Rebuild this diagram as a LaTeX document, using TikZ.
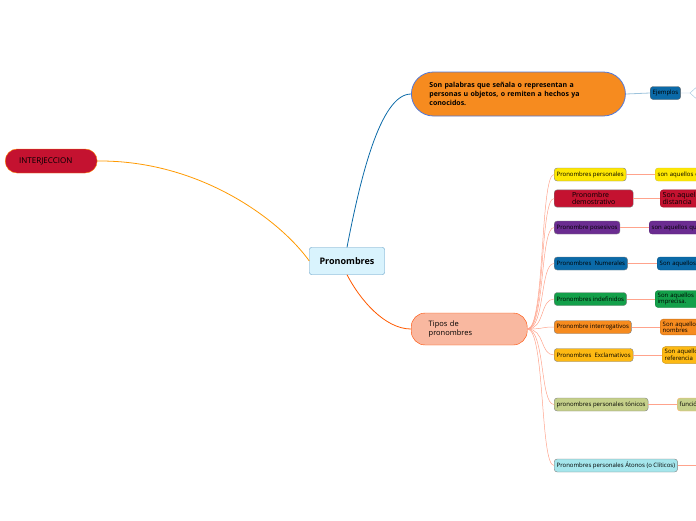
\documentclass[tikz,border=0pt]{standalone}
\usepackage{fontspec}
\setmainfont{Open Sans}
\begin{document}
\begin{tikzpicture}[x=1pt,y=-1pt,
 box/.style={draw, rounded corners=3pt, font=\fontsize{6}{7.5}\selectfont, anchor=west, inner sep=2.5pt, align=left},
 sal/.style={draw=orange!40!red!45, line width=0.5pt},
]
\useasboundingbox (0,0) rectangle (696,520);
\clip (0,0) rectangle (696,520);
\definecolor{crim}{HTML}{C41230}
\definecolor{dblue}{HTML}{0B6AA8}
\definecolor{purp}{HTML}{6B2C91}
\definecolor{grn}{HTML}{13A04A}
\definecolor{org}{HTML}{F68B1F}
\definecolor{gold}{HTML}{FDB913}
\definecolor{olive}{HTML}{C5D08A}
\definecolor{cyan2}{HTML}{A5E6EC}
\definecolor{salm}{HTML}{F9B8A0}
% central
\node[draw=dblue!70, fill=cyan!15, rounded corners=2pt, minimum width=75pt, minimum height=27pt, font=\bfseries\fontsize{9}{10}\selectfont] (P) at (347,261) {Pronombres};
\node[draw=orange, fill=crim, rounded corners=12pt, minimum width=92pt, minimum height=24pt, font=\fontsize{8}{9}\selectfont, text=black, anchor=west, align=left, text width=80pt] (I) at (5,161) {\hspace*{8pt}INTERJECCION};
\node[draw=dblue!60!blue!70, line width=0.8pt, fill=org, rounded corners=22pt, minimum width=214pt, minimum height=44pt, font=\bfseries\fontsize{7}{9}\selectfont, align=left, anchor=west, text width=190pt] (D) at (411,94) {\hspace*{6pt}\parbox{180pt}{Son palabras que señala o representan a\\personas u objetos, o remiten a hechos ya\\conocidos.}};
\node[box, fill=dblue, draw=black!60, minimum height=13pt] (E) at (650,93) {Ejemplos};
\node[draw=orange!60!red, fill=salm, rounded corners=14pt, minimum width=116pt, minimum height=32pt, font=\fontsize{7.5}{9}\selectfont, align=left, anchor=west, text width=95pt] (T) at (411,329) {\hspace*{7pt}\parbox{80pt}{Tipos de\\pronombres}};
\draw[dblue, line width=0.8pt] (P.north) .. controls (360,180) and (380,94) .. (D.west);
\draw[orange!70!red, line width=0.8pt] (P.south) .. controls (360,300) and (385,329) .. (T.west);
\draw[orange!80!yellow, line width=0.8pt] (I.east) .. controls (200,160) and (280,220) .. (P.west);
\draw[dblue!40, line width=0.8pt] (D.east) -- (E.west);
\coordinate (e1) at (700,84); \coordinate (e2) at (700,102);
\draw[dblue!40] (E.east) -- (690,93) -- (e1); \draw[dblue!40] (690,93) -- (e2);
% children
\foreach \n/\y/\c/\t/\rx/\rt/\fs/\mw in {
 a/174.5/yellow!90!orange/{Pronombres personales}/655/{son aquellos que}/6/0,
 b/198.5/crim/{Pronombre\\demostrativo}/660/{Son aquellos\\distancia}/7/79,
 c/227.5/purp/{Pronombre posesivos}/649/{son aquellos que}/6/0,
 d/263.5/dblue/{Pronombres\ \ Numerales}/657/{Son aquellos}/6/0,
 e/299/grn/{Pronombres indefinidos}/655/{Son aquellos\\imprecisa.}/6/0,
 f/327/org/{Pronombre interrogativos}/660/{Son aquellos\\nombres}/6/0,
 g/355/gold/{Pronombres\ \ Exclamativos}/662/{Son aquellos\\referencia}/6/0}
{
 \node[box, fill=\c, draw=black!50, minimum height=13pt, minimum width=\mw pt, font=\fontsize{\fs}{\fs pt+1.5pt}\selectfont] (\n) at (554,\y) {\t};
 \node[box, fill=\c, draw=\c!80!black, minimum height=13pt, text width=60pt, font=\fontsize{\fs}{\fs pt+1.5pt}\selectfont] (\n r) at (\rx,\y) {\rt};
 \draw[sal] (\n.east) -- (\n r.west);
 \draw[sal] (T.east) .. controls (545,329) and (540,\y) .. (\n.west);
}
\node[box, fill=olive, draw=black!50, minimum height=13pt] (h) at (554,404.5) {pronombres personales tónicos};
\node[box, fill=olive, draw=orange!60, minimum height=13pt, text width=40pt] (hr) at (677,404.5) {función};
\draw[sal] (h.east) -- (hr.west);
\draw[sal] (T.east) .. controls (545,329) and (540,404.5) .. (h.west);
\node[box, fill=cyan2, draw=black!50, minimum height=13pt] (k) at (554,465.5) {Pronombres personales Átonos (o Clíticos)};
\coordinate (kr) at (700,465.5);
\draw[sal] (k.east) -- (kr);
\draw[sal] (T.east) .. controls (545,329) and (540,465.5) .. (k.west);
\end{tikzpicture}
\end{document}
